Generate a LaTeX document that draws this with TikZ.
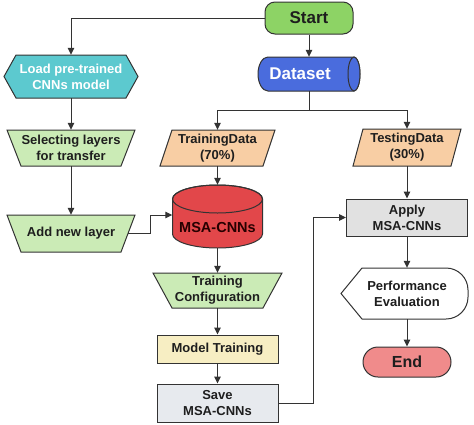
\documentclass[tikz,border=0pt]{standalone}
\usepackage{fontspec}
\setmainfont{Liberation Sans}
\usetikzlibrary{arrows.meta}
\definecolor{lc}{HTML}{333333}
\definecolor{tc}{HTML}{1E1E1E}
\definecolor{cstart}{HTML}{8DD365}
\definecolor{cdata}{HTML}{4A6CDD}
\definecolor{cload}{HTML}{5CC9CF}
\definecolor{cgreen}{HTML}{CBEBB6}
\definecolor{cpeach}{HTML}{F8CEA4}
\definecolor{cred}{HTML}{E2474A}
\definecolor{cyel}{HTML}{F7EEC3}
\definecolor{csave}{HTML}{E7EAEE}
\definecolor{capply}{HTML}{E1E1E1}
\definecolor{cend}{HTML}{F08B8B}
\tikzset{
  shp/.style={draw=lc, line width=1pt},
  txt/.style={font=\bfseries\fontsize{13}{16}\selectfont, align=center, text=tc, inner sep=0pt},
  bb/.style 2 args={txt, minimum width=#1, minimum height=#2},
  conn/.style={draw=lc, line width=1pt},
  arr/.style={conn, -{Triangle[length=7pt,width=6.5pt]}},
  flatbox/.style={shp, txt, inner sep=0pt}
}
\begin{document}
\begin{tikzpicture}[x=1pt,y=-1pt]
\useasboundingbox (0,0) rectangle (474,424);
% Start
\node[flatbox, fill=cstart, rounded corners=10pt, minimum width=88, minimum height=32,
      font=\bfseries\fontsize{17}{20}\selectfont] (start) at (309,18) {Start};
% Dataset cylinder (horizontal)
\path[shp, fill=cdata] (354,57) -- (268,57)
   arc[start angle=-90, end angle=-270, x radius=10, y radius=17]
   -- (354,91) arc[start angle=90, end angle=-90, x radius=6, y radius=17] -- cycle;
\draw[shp, fill=cdata] (354,74) ellipse[x radius=6, y radius=17];
\node[bb={102}{34}] (dataset) at (309,74) {};
\node[txt, text=white, font=\bfseries\fontsize{17}{20}\selectfont] at (300,74) {Dataset};
% Load pre-trained
\draw[shp, fill=cload] (4,76.5) -- (16,55) -- (126,55) -- (138,76.5) -- (126,98) -- (16,98) -- cycle;
\node[bb={134}{43}, text=white] (load) at (71,76.5) {Load pre-trained\\CNNs model};
% Selecting layers
\draw[shp, fill=cgreen] (7,130) -- (135,130) -- (121,166) -- (21,166) -- cycle;
\node[bb={114}{36}] (sel) at (71,148) {Selecting layers\\for transfer};
% Add new layer
\draw[shp, fill=cgreen] (7,215) -- (135,215) -- (121,252) -- (21,252) -- cycle;
\node[bb={114}{37}] (add) at (71,233.5) {Add new layer};
% TrainingData
\draw[shp, fill=cpeach] (172,130) -- (275,130) -- (263,166) -- (160,166) -- cycle;
\node[bb={103}{36}] (train) at (217.5,148) {TrainingData\\(70\%)};
% TestingData
\draw[shp, fill=cpeach] (363,129) -- (461,129) -- (451,166) -- (353,166) -- cycle;
\node[bb={98}{37}] (test) at (407,147.5) {TestingData\\(30\%)};
% MSA-CNNs cylinder
\path[shp, fill=cred] (172.5,199) -- (172.5,234)
   arc[start angle=180, end angle=0, x radius=45, y radius=14]
   -- (262.5,199) arc[start angle=0, end angle=-180, x radius=45, y radius=14] -- cycle;
\draw[shp] (217.5,199) ellipse[x radius=45, y radius=14];
\node[bb={90}{63}] (msa) at (217.5,216.5) {};
\node[txt, font=\bfseries\fontsize{14.5}{17}\selectfont, text=black!85!red] at (217.5,228) {MSA-CNNs};
% Training Configuration
\draw[shp, fill=cgreen] (153,273) -- (282,273) -- (263,308) -- (172,308) -- cycle;
\node[bb={110}{35}] (tc) at (217.5,290.5) {Training\\Configuration};
% Model Training
\node[flatbox, fill=cyel, minimum width=121, minimum height=28] (mt) at (217.5,349) {Model Training};
% Save
\node[flatbox, fill=csave, minimum width=121, minimum height=38] (save) at (217.5,403) {Save\\MSA-CNNs};
% Apply
\node[flatbox, fill=capply, minimum width=121, minimum height=37] (apply) at (407,217.5) {Apply\\MSA-CNNs};
% Performance Evaluation
\draw[shp, fill=white] (341,293.5) -- (362,268) {[rounded corners=22pt] -- (468,268) -- (468,319)} -- (362,319) -- cycle;
\node[bb={122}{51}] (pe) at (407,293.5) {Performance\\Evaluation};
% End
\node[flatbox, fill=cend, rounded corners=15pt, minimum width=88, minimum height=30,
      font=\bfseries\fontsize{16}{19}\selectfont] (end) at (407,362) {End};
% Connectors
\draw[arr] (start.west) -| (load.north);
\draw[arr] (start.south) -- (dataset.north);
\draw[arr] (dataset.south) -- ++(0,19) -| (train.north);
\draw[arr] (dataset.south) -- ++(0,19) -| (test.north);
\draw[arr] (load.south) -- (sel.north);
\draw[arr] (sel.south) -- (add.north);
\draw[arr] (add.east) -- ([xshift=22pt]add.east) |- ([yshift=1.5pt]msa.west);
\draw[arr] (train.south) -- (msa.north);
\draw[arr] (msa.south) -- (tc.north);
\draw[arr] (tc.south) -- (mt.north);
\draw[arr] (mt.south) -- (save.north);
\draw[arr] (save.east) -- ([xshift=35pt]save.east) |- (apply.west);
\draw[arr] (test.south) -- (apply.north);
\draw[arr] (apply.south) -- (pe.north);
\draw[arr] (pe.south) -- (end.north);
\end{tikzpicture}
\end{document}
